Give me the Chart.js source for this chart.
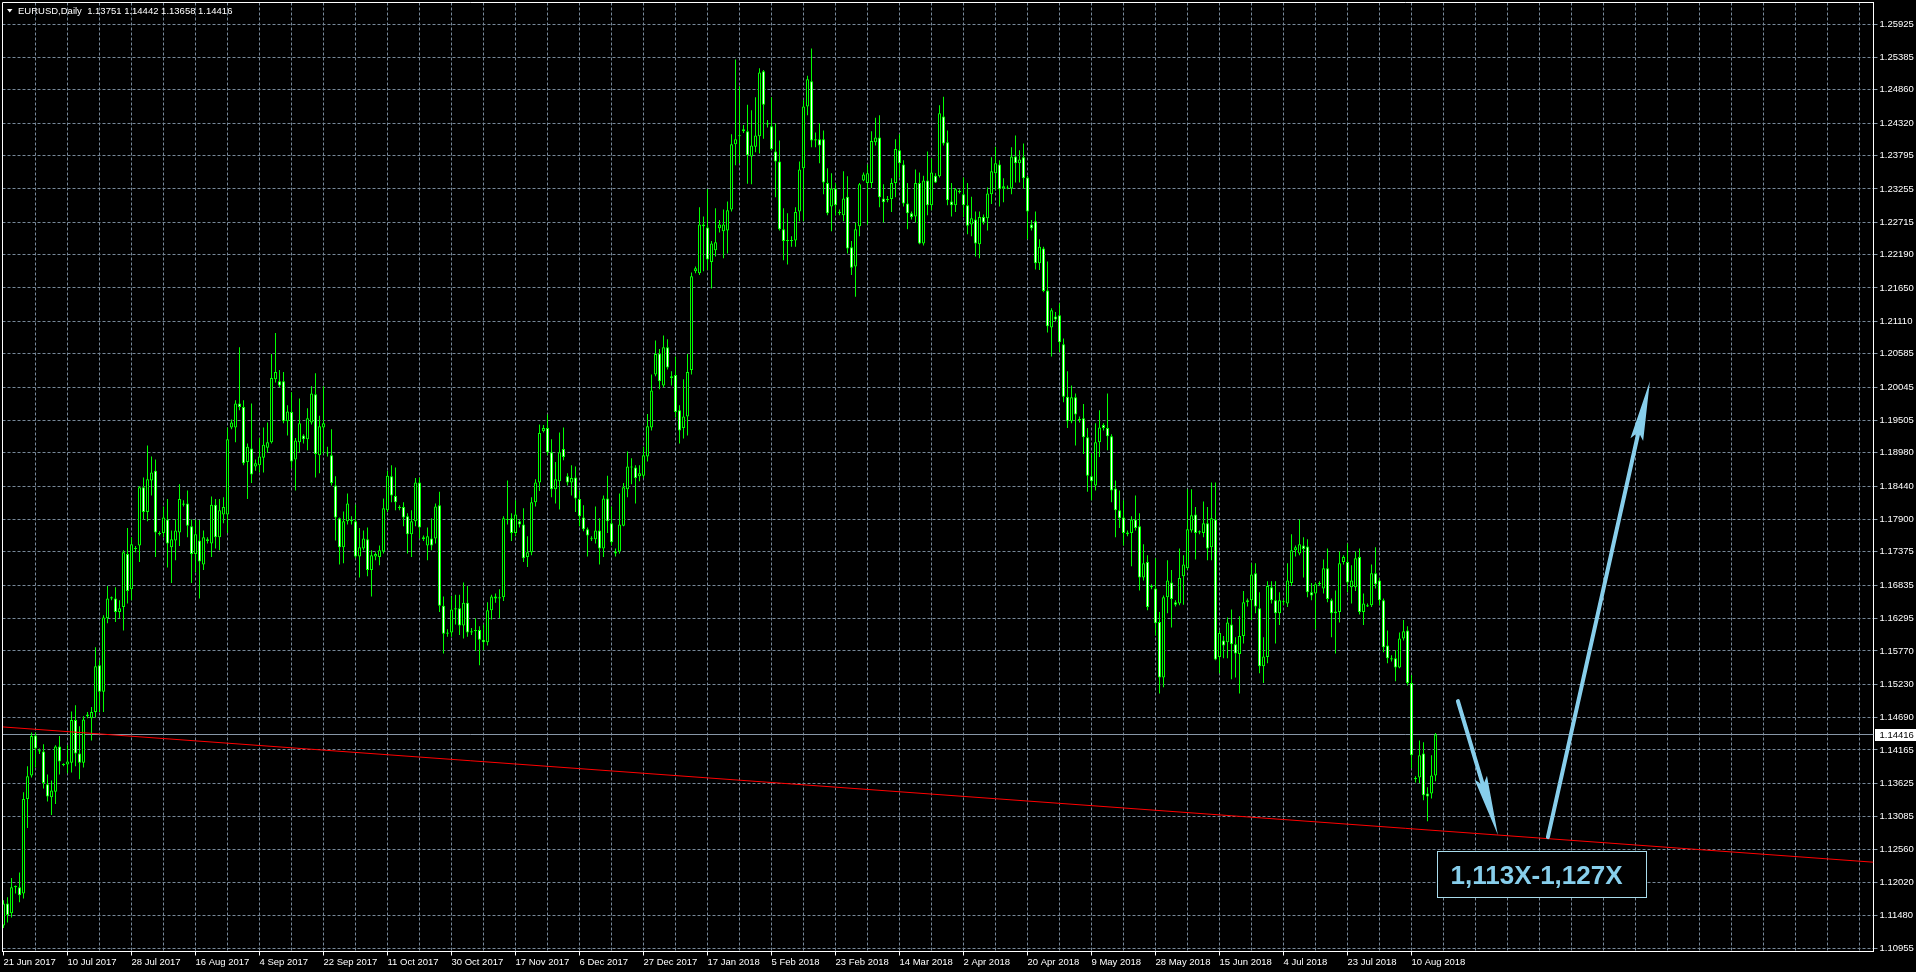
<!DOCTYPE html>
<html>
<head>
<meta charset="utf-8">
<title>EURUSD,Daily</title>
<script src="https://cdn.jsdelivr.net/npm/chart.js@4.4.1/dist/chart.umd.min.js"></script>
<style>
  html, body { margin: 0; padding: 0; background: #000; overflow: hidden; }
  #chart { display: block; }
</style>
</head>
<body>
<canvas id="chart" width="1916" height="972"></canvas>
<script>
const symbolTitle = 'EURUSD,Daily';

const dateLabels = ['21 Jun 2017', '10 Jul 2017', '28 Jul 2017', '16 Aug 2017', '4 Sep 2017', '22 Sep 2017',
  '11 Oct 2017', '30 Oct 2017', '17 Nov 2017', '6 Dec 2017', '27 Dec 2017', '17 Jan 2018', '5 Feb 2018',
  '23 Feb 2018', '14 Mar 2018', '2 Apr 2018', '20 Apr 2018', '9 May 2018', '28 May 2018', '15 Jun 2018',
  '4 Jul 2018', '23 Jul 2018', '10 Aug 2018'];

const priceTicks = [1.25925, 1.25385, 1.24860, 1.24320, 1.23795, 1.23255, 1.22715, 1.22190, 1.21650, 1.21110,
  1.20585, 1.20045, 1.19505, 1.18980, 1.18440, 1.17900, 1.17375, 1.16835, 1.16295, 1.15770, 1.15230, 1.14690,
  1.14165, 1.13625, 1.13085, 1.12560, 1.12020, 1.11480, 1.10955];

const opens = [
  1.1132,1.1168,1.1152,1.1194,1.1194,1.1184,1.1337,1.1375,1.1440,1.1414,
  1.1414,1.1361,1.1340,1.1349,1.1422,1.1393,1.1393,1.1396,1.1465,1.1411,
  1.1396,1.1471,1.1468,1.1478,1.1554,1.1511,1.1630,1.1662,1.1662,1.1640,
  1.1648,1.1734,1.1677,1.1743,1.1748,1.1842,1.1802,1.1853,1.1869,1.1768,
  1.1768,1.1790,1.1745,1.1756,1.1769,1.1816,1.1816,1.1779,1.1734,1.1756,
  1.1717,1.1758,1.1751,1.1814,1.1761,1.1798,1.1798,1.1939,1.1939,1.1978,
  1.1972,1.1883,1.1905,1.1876,1.1878,1.1890,1.1906,1.1915,1.2017,1.2014,
  1.2014,1.1949,1.1964,1.1887,1.1915,1.1926,1.1920,1.1947,1.1993,1.1894,
  1.1939,1.1898,1.1894,1.1845,1.1792,1.1745,1.1787,1.1789,1.1787,1.1730,
  1.1743,1.1758,1.1708,1.1730,1.1729,1.1738,1.1805,1.1860,1.1828,1.1810,
  1.1810,1.1795,1.1766,1.1787,1.1850,1.1761,1.1748,1.1759,1.1759,1.1813,
  1.1650,1.1605,1.1607,1.1644,1.1646,1.1618,1.1655,1.1607,1.1609,1.1611,
  1.1595,1.1591,1.1643,1.1665,1.1662,1.1664,1.1790,1.1792,1.1768,1.1787,
  1.1782,1.1729,1.1737,1.1818,1.1850,1.1933,1.1938,1.1899,1.1839,1.1852,
  1.1904,1.1860,1.1850,1.1858,1.1823,1.1793,1.1774,1.1759,1.1758,1.1772,
  1.1743,1.1824,1.1784,1.1738,1.1738,1.1780,1.1839,1.1876,1.1874,1.1860,
  1.1861,1.1892,1.1939,1.2025,1.2059,1.2007,1.2069,1.2019,1.2024,1.1967,
  1.1938,1.1957,1.2032,1.2192,1.2189,1.2268,1.2263,1.2207,1.2226,1.2262,
  1.2257,1.2258,1.2292,1.2398,1.2411,1.2419,1.2419,1.2378,1.2394,1.2411,
  1.2516,1.2430,1.2427,1.2386,1.2370,1.2260,1.2241,1.2242,1.2242,1.2289,
  1.2359,1.2459,1.2500,1.2404,1.2406,1.2406,1.2335,1.2297,1.2326,1.2288,
  1.2283,1.2313,1.2231,1.2200,1.2265,1.2339,1.2335,1.2335,1.2401,1.2409,
  1.2310,1.2309,1.2309,1.2335,1.2388,1.2365,1.2302,1.2286,1.2281,1.2335,
  1.2237,1.2339,1.2299,1.2347,1.2346,1.2443,1.2401,1.2305,1.2299,1.2322,
  1.2317,1.2299,1.2268,1.2276,1.2236,1.2280,1.2278,1.2317,1.2351,1.2365,
  1.2326,1.2328,1.2326,1.2378,1.2367,1.2377,1.2344,1.2268,1.2273,1.2205,
  1.2229,1.2161,1.2101,1.2119,1.2121,1.2074,1.1989,1.1949,1.1988,1.1952,
  1.1954,1.1923,1.1860,1.1845,1.1915,1.1943,1.1938,1.1925,1.1840,1.1805,
  1.1793,1.1769,1.1768,1.1790,1.1779,1.1696,1.1721,1.1682,1.1678,1.1624,
  1.1534,1.1664,1.1688,1.1656,1.1654,1.1698,1.1711,1.1772,1.1798,1.1769,
  1.1768,1.1784,1.1745,1.1790,1.1567,1.1594,1.1591,1.1620,1.1588,1.1572,
  1.1601,1.1656,1.1659,1.1703,1.1646,1.1552,1.1567,1.1680,1.1659,1.1638,
  1.1657,1.1654,1.1687,1.1740,1.1735,1.1748,1.1746,1.1672,1.1670,1.1687,
  1.1678,1.1711,1.1659,1.1638,1.1640,1.1721,1.1721,1.1680,1.1680,1.1729,
  1.1640,1.1651,1.1651,1.1703,1.1691,1.1659,1.1586,1.1565,1.1565,1.1550,
  1.1597,1.1610,1.1525,1.1369,1.1372,1.1411,1.1346,1.1346,1.13751
];

const highs = [
  1.1173,1.1178,1.1209,1.1197,1.1218,1.1348,1.1390,1.1445,1.1445,1.1419,
  1.1426,1.1377,1.1367,1.1424,1.1439,1.1395,1.1424,1.1479,1.1489,1.1455,
  1.1471,1.1478,1.1486,1.1583,1.1562,1.1635,1.1682,1.1665,1.1680,1.1659,
  1.1740,1.1776,1.1761,1.1747,1.1844,1.1858,1.1910,1.1892,1.1887,1.1771,
  1.1811,1.1823,1.1772,1.1790,1.1847,1.1821,1.1837,1.1790,1.1790,1.1789,
  1.1772,1.1761,1.1827,1.1823,1.1823,1.1826,1.1939,1.1952,1.1983,1.2069,
  1.1983,1.1913,1.1978,1.1887,1.1922,1.1939,1.1947,1.2058,1.2092,1.2032,
  1.2029,1.1975,1.1996,1.1922,1.1986,1.1928,1.1970,1.2006,1.2027,1.1958,
  1.2006,1.1908,1.1936,1.1860,1.1793,1.1803,1.1832,1.1795,1.1814,1.1776,
  1.1772,1.1777,1.1740,1.1737,1.1748,1.1824,1.1869,1.1878,1.1874,1.1813,
  1.1818,1.1800,1.1805,1.1857,1.1858,1.1764,1.1777,1.1792,1.1816,1.1835,
  1.1665,1.1612,1.1666,1.1668,1.1668,1.1688,1.1682,1.1614,1.1630,1.1617,
  1.1620,1.1656,1.1668,1.1670,1.1677,1.1795,1.1853,1.1800,1.1821,1.1790,
  1.1808,1.1763,1.1826,1.1855,1.1944,1.1943,1.1960,1.1920,1.1883,1.1931,
  1.1939,1.1865,1.1878,1.1876,1.1837,1.1813,1.1777,1.1763,1.1811,1.1792,
  1.1829,1.1861,1.1811,1.1743,1.1832,1.1849,1.1900,1.1889,1.1878,1.1878,
  1.1908,1.1961,1.2025,1.2080,1.2066,1.2088,1.2082,1.2030,1.2054,1.1975,
  1.2017,1.2058,1.2190,1.2200,1.2296,1.2281,1.2325,1.2241,1.2294,1.2275,
  1.2292,1.2305,1.2414,1.2535,1.2492,1.2429,1.2462,1.2453,1.2474,1.2521,
  1.2518,1.2437,1.2474,1.2432,1.2404,1.2294,1.2286,1.2249,1.2296,1.2370,
  1.2469,1.2509,1.2553,1.2417,1.2432,1.2420,1.2359,1.2351,1.2335,1.2292,
  1.2354,1.2346,1.2241,1.2271,1.2335,1.2352,1.2365,1.2419,1.2441,1.2445,
  1.2333,1.2314,1.2343,1.2406,1.2414,1.2372,1.2335,1.2289,1.2357,1.2352,
  1.2347,1.2386,1.2375,1.2351,1.2461,1.2475,1.2420,1.2335,1.2327,1.2325,
  1.2344,1.2335,1.2313,1.2289,1.2289,1.2284,1.2328,1.2377,1.2394,1.2372,
  1.2343,1.2331,1.2393,1.2412,1.2388,1.2399,1.2347,1.2275,1.2289,1.2244,
  1.2232,1.2208,1.2132,1.2126,1.2140,1.2083,1.2030,1.2007,1.1994,1.1957,
  1.1977,1.1938,1.1897,1.1946,1.1967,1.1946,1.1994,1.1928,1.1853,1.1837,
  1.1821,1.1772,1.1795,1.1829,1.1800,1.1750,1.1732,1.1685,1.1727,1.1640,
  1.1667,1.1724,1.1708,1.1659,1.1743,1.1732,1.1839,1.1839,1.1810,1.1772,
  1.1819,1.1810,1.1850,1.1850,1.1610,1.1601,1.1631,1.1644,1.1599,1.1633,
  1.1674,1.1662,1.1719,1.1719,1.1672,1.1599,1.1690,1.1690,1.1690,1.1672,
  1.1660,1.1719,1.1766,1.1748,1.1790,1.1761,1.1758,1.1687,1.1688,1.1690,
  1.1725,1.1743,1.1662,1.1675,1.1738,1.1732,1.1751,1.1716,1.1738,1.1743,
  1.1670,1.1654,1.1717,1.1745,1.1695,1.1662,1.1610,1.1570,1.1578,1.1607,
  1.1627,1.1617,1.1538,1.1374,1.1432,1.1429,1.1356,1.1408,1.14442
];

const lows = [
  1.1128,1.1137,1.1145,1.1184,1.1170,1.1176,1.1290,1.1372,1.1388,1.1410,
  1.1354,1.1333,1.1311,1.1329,1.1377,1.1390,1.1379,1.1380,1.1390,1.1369,
  1.1388,1.1468,1.1432,1.1469,1.1478,1.1478,1.1622,1.1659,1.1624,1.1630,
  1.1610,1.1654,1.1659,1.1737,1.1721,1.1789,1.1787,1.1829,1.1729,1.1764,
  1.1761,1.1712,1.1687,1.1724,1.1747,1.1811,1.1761,1.1687,1.1704,1.1662,
  1.1708,1.1751,1.1729,1.1743,1.1740,1.1784,1.1768,1.1936,1.1915,1.1967,
  1.1878,1.1823,1.1849,1.1869,1.1866,1.1866,1.1898,1.1913,1.2012,1.2004,
  1.1946,1.1926,1.1873,1.1837,1.1898,1.1913,1.1902,1.1944,1.1858,1.1865,
  1.1897,1.1892,1.1845,1.1756,1.1717,1.1719,1.1782,1.1782,1.1727,1.1696,
  1.1740,1.1698,1.1665,1.1724,1.1716,1.1735,1.1802,1.1818,1.1805,1.1805,
  1.1779,1.1735,1.1729,1.1779,1.1759,1.1755,1.1724,1.1740,1.1751,1.1640,
  1.1573,1.1600,1.1600,1.1620,1.1603,1.1597,1.1600,1.1603,1.1577,1.1554,
  1.1578,1.1586,1.1628,1.1655,1.1630,1.1658,1.1782,1.1755,1.1763,1.1777,
  1.1721,1.1713,1.1732,1.1811,1.1836,1.1931,1.1894,1.1826,1.1816,1.1806,
  1.1886,1.1845,1.1829,1.1802,1.1779,1.1771,1.1730,1.1755,1.1751,1.1717,
  1.1729,1.1768,1.1748,1.1730,1.1735,1.1779,1.1826,1.1847,1.1816,1.1852,
  1.1857,1.1884,1.1934,1.2022,1.2001,1.2004,1.2033,1.2007,1.1955,1.1913,
  1.1921,1.1926,1.2025,1.2189,1.2186,1.2192,1.2194,1.2164,1.2216,1.2255,
  1.2213,1.2221,1.2289,1.2364,1.2367,1.2416,1.2334,1.2333,1.2385,1.2383,
  1.2407,1.2425,1.2388,1.2312,1.2258,1.2210,1.2203,1.2232,1.2232,1.2273,
  1.2273,1.2445,1.2393,1.2393,1.2367,1.2317,1.2283,1.2257,1.2283,1.2283,
  1.2273,1.2221,1.2186,1.2151,1.2249,1.2338,1.2268,1.2327,1.2396,1.2296,
  1.2271,1.2304,1.2288,1.2312,1.2344,1.2297,1.2260,1.2276,1.2271,1.2236,
  1.2234,1.2283,1.2291,1.2335,1.2344,1.2396,1.2299,1.2281,1.2288,1.2318,
  1.2280,1.2252,1.2249,1.2216,1.2213,1.2268,1.2258,1.2301,1.2323,1.2297,
  1.2304,1.2325,1.2317,1.2336,1.2336,1.2326,1.2244,1.2258,1.2195,1.2194,
  1.2158,1.2093,1.2054,1.2111,1.2061,1.1980,1.1938,1.1946,1.1910,1.1947,
  1.1896,1.1835,1.1821,1.1837,1.1891,1.1934,1.1902,1.1818,1.1761,1.1776,
  1.1748,1.1763,1.1714,1.1772,1.1675,1.1691,1.1643,1.1677,1.1602,1.1508,
  1.1518,1.1638,1.1615,1.1649,1.1651,1.1652,1.1709,1.1769,1.1725,1.1766,
  1.1761,1.1724,1.1724,1.1562,1.1541,1.1565,1.1565,1.1531,1.1534,1.1508,
  1.1589,1.1649,1.1627,1.1638,1.1541,1.1525,1.1557,1.1654,1.1589,1.1619,
  1.1652,1.1648,1.1682,1.1730,1.1732,1.1696,1.1664,1.1659,1.1612,1.1682,
  1.1670,1.1656,1.1599,1.1573,1.1623,1.1717,1.1672,1.1654,1.1674,1.1636,
  1.1619,1.1648,1.1648,1.1678,1.1651,1.1575,1.1557,1.1560,1.1528,1.1549,
  1.1594,1.1521,1.1387,1.1364,1.1363,1.1335,1.1301,1.1338,1.13658
];

const closes = [
  1.1168,1.1149,1.1194,1.1196,1.1181,1.1337,1.1374,1.1439,1.1419,1.1416,
  1.1363,1.1341,1.1351,1.1422,1.1398,1.1392,1.1398,1.1465,1.1411,1.1396,
  1.1466,1.1474,1.1478,1.1552,1.1511,1.1631,1.1662,1.1664,1.1640,1.1646,
  1.1737,1.1674,1.1750,1.1742,1.1842,1.1802,1.1855,1.1866,1.1769,1.1766,
  1.1793,1.1751,1.1758,1.1772,1.1823,1.1814,1.1780,1.1734,1.1766,1.1722,
  1.1761,1.1755,1.1814,1.1761,1.1805,1.1810,1.1920,1.1947,1.1978,1.1972,
  1.1881,1.1908,1.1863,1.1881,1.1892,1.1911,1.1915,1.2019,1.2029,1.2007,
  1.1949,1.1965,1.1884,1.1918,1.1946,1.1920,1.1954,1.1994,1.1896,1.1941,
  1.1946,1.1897,1.1849,1.1793,1.1745,1.1787,1.1816,1.1787,1.1730,1.1745,
  1.1759,1.1708,1.1732,1.1734,1.1740,1.1808,1.1861,1.1829,1.1818,1.1808,
  1.1793,1.1766,1.1787,1.1850,1.1777,1.1758,1.1763,1.1748,1.1811,1.1650,
  1.1605,1.1607,1.1644,1.1646,1.1618,1.1655,1.1607,1.1609,1.1611,1.1595,
  1.1591,1.1643,1.1665,1.1662,1.1664,1.1792,1.1789,1.1768,1.1798,1.1782,
  1.1727,1.1737,1.1818,1.1850,1.1930,1.1938,1.1899,1.1839,1.1855,1.1899,
  1.1891,1.1850,1.1857,1.1824,1.1795,1.1774,1.1764,1.1758,1.1772,1.1743,
  1.1824,1.1787,1.1753,1.1735,1.1782,1.1842,1.1876,1.1874,1.1857,1.1865,
  1.1894,1.1941,1.1999,1.2058,1.2014,1.2069,1.2036,1.2022,1.1964,1.1934,
  1.1957,1.2029,1.2184,1.2197,1.2268,1.2265,1.2211,1.2237,1.2239,1.2268,
  1.2268,1.2291,1.2398,1.2406,1.2412,1.2422,1.2380,1.2396,1.2412,1.2514,
  1.2462,1.2432,1.2390,1.2370,1.2260,1.2241,1.2242,1.2241,1.2288,1.2357,
  1.2459,1.2503,1.2404,1.2406,1.2396,1.2336,1.2286,1.2326,1.2299,1.2286,
  1.2310,1.2229,1.2198,1.2260,1.2333,1.2349,1.2351,1.2403,1.2409,1.2312,
  1.2304,1.2307,1.2335,1.2390,1.2367,1.2302,1.2286,1.2280,1.2335,1.2237,
  1.2339,1.2299,1.2352,1.2336,1.2448,1.2399,1.2307,1.2299,1.2325,1.2320,
  1.2299,1.2266,1.2278,1.2237,1.2280,1.2271,1.2318,1.2354,1.2367,1.2325,
  1.2330,1.2326,1.2378,1.2367,1.2373,1.2343,1.2289,1.2262,1.2205,1.2232,
  1.2160,1.2103,1.2129,1.2114,1.2077,1.1989,1.1949,1.1988,1.1960,1.1951,
  1.1923,1.1861,1.1852,1.1915,1.1939,1.1938,1.1925,1.1837,1.1805,1.1792,
  1.1768,1.1766,1.1790,1.1776,1.1696,1.1719,1.1648,1.1680,1.1622,1.1534,
  1.1664,1.1691,1.1661,1.1652,1.1695,1.1717,1.1774,1.1797,1.1768,1.1771,
  1.1784,1.1743,1.1792,1.1563,1.1606,1.1586,1.1623,1.1588,1.1573,1.1601,
  1.1656,1.1659,1.1701,1.1649,1.1552,1.1568,1.1682,1.1659,1.1638,1.1659,
  1.1656,1.1691,1.1740,1.1745,1.1750,1.1742,1.1672,1.1667,1.1685,1.1685,
  1.1711,1.1661,1.1638,1.1641,1.1719,1.1729,1.1688,1.1691,1.1727,1.1640,
  1.1654,1.1649,1.1703,1.1685,1.1659,1.1583,1.1565,1.1563,1.1550,1.1597,
  1.1609,1.1525,1.1408,1.1371,1.1408,1.1343,1.1341,1.1375,1.14416
];

// red trend line, two arrows and the target label (bar index, price)
const trendX = [-0.25, 467.5];
const trendY = [1.14539, 1.12347];
const arrowStarts = [[363.6, 1.14957], [386.1, 1.12753]];
const arrowEnds = [[373.6, 1.12786], [411.6, 1.20141]];
const targetText = '1,113X-1,127X';
const targetAnchor = [358.4, 1.12527];

const BAR_FIRST = -0.25;
const BAR_LAST = 467.5;
const last = closes.length - 1;
const FONT = '"Liberation Sans", Arial, sans-serif';

Chart.defaults.font.family = FONT;
Chart.defaults.color = '#ffffff';

function drawArrow(ctx, x1, y1, x2, y2) {
  const dx = x2 - x1;
  const dy = y2 - y1;
  const len = Math.hypot(dx, dy);
  const ux = dx / len;
  const uy = dy / len;
  const headLen = 60;
  const half = 6.5;
  const bx = x2 - ux * headLen;
  const by = y2 - uy * headLen;
  ctx.lineWidth = 4;
  ctx.lineCap = 'round';
  ctx.beginPath();
  ctx.moveTo(x1, y1);
  ctx.lineTo(bx + ux * 12, by + uy * 12);
  ctx.stroke();
  ctx.beginPath();
  ctx.moveTo(x2, y2);
  ctx.lineTo(bx - uy * half, by + ux * half);
  ctx.lineTo(bx + ux * 8, by + uy * 8);
  ctx.lineTo(bx + uy * half, by - ux * half);
  ctx.closePath();
  ctx.fill();
}

const terminalPlugin = {
  id: 'terminal',
  afterDatasetsDraw(chart) {
    const { ctx, chartArea, scales } = chart;
    const x = scales.x;
    const y = scales.y;
    ctx.save();
    ctx.beginPath();
    ctx.rect(chartArea.left, chartArea.top, chartArea.right - chartArea.left, chartArea.bottom - chartArea.top);
    ctx.clip();

    ctx.strokeStyle = '#87ceeb';
    ctx.fillStyle = '#87ceeb';
    arrowStarts.forEach((s, i) => {
      const e = arrowEnds[i];
      drawArrow(ctx, x.getPixelForValue(s[0]), y.getPixelForValue(s[1]),
        x.getPixelForValue(e[0]), y.getPixelForValue(e[1]));
    });

    const bx = Math.round(x.getPixelForValue(targetAnchor[0])) + 0.5;
    const by = Math.round(y.getPixelForValue(targetAnchor[1])) + 0.5;
    ctx.fillStyle = '#000000';
    ctx.fillRect(bx, by, 209, 46);
    ctx.strokeStyle = '#a9dcec';
    ctx.lineWidth = 1;
    ctx.strokeRect(bx, by, 209, 46);
    ctx.font = 'bold 26px ' + FONT;
    ctx.fillStyle = '#87ceeb';
    ctx.textBaseline = 'alphabetic';
    ctx.textAlign = 'left';
    ctx.fillText(targetText, bx + 13, by + 32);
    ctx.restore();
  },
  afterDraw(chart) {
    const { ctx, chartArea, scales } = chart;
    ctx.save();
    // frame on the two sides without an axis
    ctx.strokeStyle = '#ffffff';
    ctx.lineWidth = 1;
    ctx.beginPath();
    ctx.moveTo(chartArea.left, chartArea.bottom);
    ctx.lineTo(chartArea.left, chartArea.top);
    ctx.lineTo(chartArea.right, chartArea.top);
    ctx.stroke();

    // header
    ctx.fillStyle = '#ffffff';
    ctx.beginPath();
    ctx.moveTo(7, 9);
    ctx.lineTo(12.5, 9);
    ctx.lineTo(9.75, 12.5);
    ctx.closePath();
    ctx.fill();
    const ohlc = [opens[last], highs[last], lows[last], closes[last]].map(v => v.toFixed(5)).join(' ');
    ctx.font = '9.5px ' + FONT;
    ctx.textBaseline = 'middle';
    ctx.textAlign = 'left';
    ctx.fillText(symbolTitle + '  ' + ohlc, 18, 11);

    // current price tag on the price scale
    const py = Math.round(scales.y.getPixelForValue(closes[last]));
    ctx.fillStyle = '#ffffff';
    ctx.fillRect(chartArea.right + 1.5, py - 6, 42, 12);
    ctx.fillStyle = '#000000';
    ctx.fillText(closes[last].toFixed(5), chartArea.right + 6, py + 0.5);
    ctx.restore();
  }
};

function initChart() {
  const wickData = highs.map((h, i) => ({ x: i, y: [lows[i], h] }));
  const bodyData = opens.map((o, i) => ({ x: i, y: [o, closes[i]] }));
  const bodyFill = opens.map((o, i) => closes[i] < o ? '#ffffff' : '#000000');
  const trendData = trendX.map((v, i) => ({ x: v, y: trendY[i] }));
  const bidData = [{ x: BAR_FIRST, y: closes[last] }, { x: BAR_LAST, y: closes[last] }];

  const gridBars = [];
  for (let b = 0; b <= BAR_LAST; b += 8) gridBars.push(b);

  const config = {
    type: 'bar',
    data: {
      datasets: [
        {
          type: 'line', label: 'trend', data: trendData,
          borderColor: '#ff0000', borderWidth: 1, pointRadius: 0, order: 0
        },
        {
          label: 'body', data: bodyData,
          backgroundColor: bodyFill, borderColor: '#00ff00', borderWidth: 1,
          borderSkipped: false, inflateAmount: 0, minBarLength: 1,
          grouped: false, categoryPercentage: 1, barPercentage: 1, maxBarThickness: 3, order: 1
        },
        {
          label: 'wick', data: wickData,
          backgroundColor: '#00ff00', borderWidth: 0, inflateAmount: 0,
          grouped: false, categoryPercentage: 1, barPercentage: 1, maxBarThickness: 1, order: 2
        },
        {
          type: 'line', label: 'bid', data: bidData,
          borderColor: '#8796a6', borderWidth: 1, pointRadius: 0, order: 3
        }
      ]
    },
    options: {
      responsive: false,
      animation: false,
      devicePixelRatio: 1,
      events: [],
      layout: { autoPadding: false, padding: { left: 2.5, top: 2.5, right: 0, bottom: 0 } },
      plugins: {
        legend: { display: false },
        tooltip: { enabled: false }
      },
      scales: {
        x: {
          type: 'linear',
          min: BAR_FIRST,
          max: BAR_LAST,
          offset: false,
          afterBuildTicks: (s) => { s.ticks = gridBars.map(v => ({ value: v })); },
          afterFit: (s) => { s.height = 20.5; s.paddingLeft = 0; s.paddingRight = 0; },
          grid: {
            offset: false,
            color: (c) => (c.tick && c.tick.value === 0) ? 'rgba(0,0,0,0)' : '#778899',
            lineWidth: 1,
            tickLength: 4,
            tickColor: (c) => (c.tick && c.tick.value % 16 === 0 && c.tick.value / 16 < dateLabels.length) ? '#ffffff' : 'rgba(0,0,0,0)'
          },
          border: { display: true, color: '#ffffff', width: 1, dash: [3, 2] },
          ticks: {
            color: '#ffffff',
            font: { size: 9.5 },
            align: 'start',
            autoSkip: false,
            maxRotation: 0,
            minRotation: 0,
            padding: 1,
            callback: (v) => (v % 16 === 0 && dateLabels[v / 16]) ? dateLabels[v / 16] : ''
          }
        },
        y: {
          type: 'linear',
          position: 'right',
          min: 1.1090040,
          max: 1.2627543,
          beginAtZero: false,
          afterBuildTicks: (s) => { s.ticks = priceTicks.map(v => ({ value: v })); },
          afterFit: (s) => { s.width = 42.5; s.paddingTop = 0; s.paddingBottom = 0; },
          grid: { color: '#778899', lineWidth: 1, tickLength: 4, tickColor: '#8a9aaa' },
          border: { display: true, color: '#ffffff', width: 1, dash: [3, 2] },
          ticks: {
            color: '#ffffff',
            font: { size: 9.5 },
            autoSkip: false,
            padding: 2,
            callback: (v) => Number(v).toFixed(5)
          }
        }
      }
    },
    plugins: [terminalPlugin]
  };
  return new Chart(document.getElementById('chart'), config);
}

const priceChart = initChart();
</script>
</body>
</html>
